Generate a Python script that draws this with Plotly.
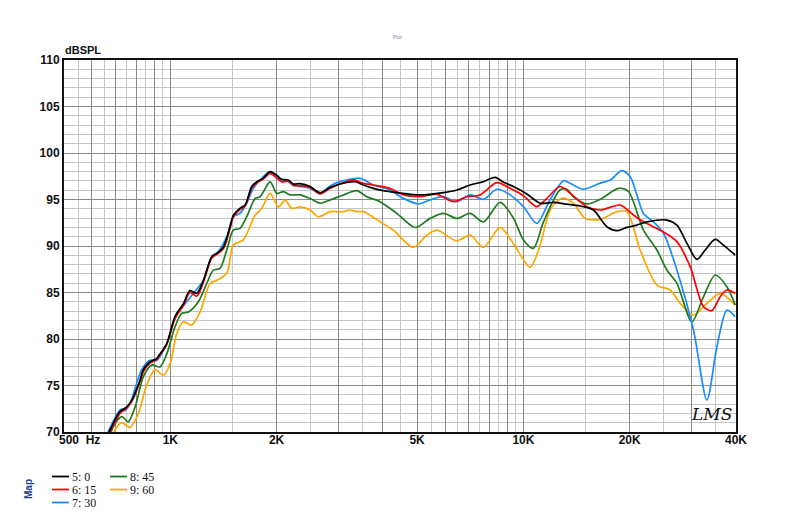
import plotly.graph_objects as go

# ---- data ----
FREQ_5_0 = [640, 675, 697, 720, 753, 778, 821, 839, 876, 915, 935, 977, 1031, 1089, 1137, 1188, 1241, 1310,
            1354, 1414, 1477, 1508, 1575, 1628, 1701, 1757, 1835, 1917, 2003, 2069, 2160, 2231, 2331, 2488,
            2655, 2834, 3025, 3336, 3522, 3760, 4013, 4381, 4777, 5099, 5443, 5936, 6479, 7066, 7706, 8317,
            8779, 9371, 10228, 11153, 12165, 13277, 14478, 15788, 17229, 18393, 19630, 20958, 22373, 25489,
            27207, 29040, 31000, 32720, 34925, 37276, 39790]
SPL_5_0 = [68.5, 70.2, 71.3, 72.2, 72.7, 73.4, 75.6, 76.7, 77.55, 77.9, 78.4, 79.5, 82.4, 83.8, 85.2, 84.9, 86.3,
           88.85, 89.2, 89.9, 92.1, 93.3, 94.05, 94.4, 96.4, 96.9, 97.3, 98.0, 97.6, 97.17, 97.1, 96.66, 96.7,
           96.4, 95.73, 96.3, 96.67, 96.92, 96.56, 96.2, 95.95, 95.73, 95.56, 95.49, 95.56, 95.73, 96.02, 96.56,
           96.92, 97.38, 96.85, 96.4, 95.6, 94.6, 94.7, 94.5, 94.3, 93.87, 92.07, 91.65, 92.0, 92.25, 92.6,
           92.79, 92.25, 90.29, 88.56, 89.57, 90.72, 89.93, 89.03]

FREQ_6_15 = [640, 675, 697, 720, 753, 778, 821, 839, 876, 915, 935, 977, 1031, 1089, 1137, 1188, 1241, 1310,
             1354, 1414, 1477, 1508, 1575, 1628, 1701, 1757, 1835, 1917, 2003, 2069, 2160, 2231, 2331, 2488,
             2655, 2834, 3025, 3300, 3522, 3760, 4192, 4573, 5099, 5686, 6337, 6916, 7542, 8409, 9171, 10004,
             10915, 11654, 12708, 13564, 15125, 16498, 18798, 20499, 21883, 24400, 27207, 29671, 32366, 34184,
             36082, 37701, 39790]
SPL_6_15 = [68.3, 70.0, 71.0, 72.0, 72.6, 73.3, 75.4, 76.5, 77.4, 77.8, 78.3, 79.4, 82.2, 83.6, 85.0, 84.6, 86.1,
            88.7, 89.1, 89.7, 91.9, 93.1, 93.9, 94.3, 96.2, 96.8, 97.2, 97.8, 97.3, 96.9, 97.0, 96.5, 96.5, 96.3,
            95.6, 96.2, 96.67, 97.1, 96.74, 96.56, 96.2, 95.49, 95.3, 95.56, 94.77, 95.3, 95.49, 96.81, 96.2,
            95.4, 94.23, 95.13, 96.4, 95.68, 94.23, 93.87, 94.4, 93.33, 92.6, 91.7, 90.47, 87.78, 83.47, 83.05,
            84.55, 85.27, 84.9]

FREQ_7_30 = [630, 670, 725, 744, 769, 830, 876, 915, 977, 1043, 1101, 1162, 1241, 1310, 1368, 1445, 1508, 1575,
             1646, 1719, 1796, 1917, 2046, 2137, 2231, 2488, 2655, 2834, 3025, 3447, 3760, 4192, 4573, 5043,
             5443, 5936, 6479, 7066, 7706, 8409, 9171, 10004, 10915, 11905, 12985, 13564, 14793, 16498, 17610,
             19009, 20065, 20958, 21883, 23354, 24930, 27207, 30314, 33090, 35313, 37701, 39790]
SPL_7_30 = [67.5, 70.2, 72.45, 72.3, 73.08, 76.7, 77.7, 77.7, 79.5, 82.75, 83.8, 84.9, 86.3, 88.85, 89.4, 91.0,
            93.15, 93.5, 94.6, 96.2, 97.1, 98.0, 97.1, 97.0, 96.55, 96.2, 95.66, 96.45, 96.92, 97.27, 96.56,
            96.02, 95.12, 94.52, 94.95, 95.3, 94.77, 95.49, 95.02, 96.1, 95.5, 94.23, 92.43, 95.0, 97.02, 96.74,
            96.1, 96.76, 97.09, 98.1, 97.45, 95.5, 93.5, 92.6, 91.37, 87.42, 80.97, 73.43, 79.17, 83.1, 82.4]

FREQ_8_45 = [650, 690, 729, 760, 795, 839, 886, 935, 977, 1031, 1077, 1125, 1201, 1268, 1324, 1383, 1445, 1508,
             1575, 1646, 1738, 1796, 1917, 2003, 2091, 2184, 2331, 2488, 2655, 2834, 3091, 3375, 3601, 3927,
             4381, 4935, 5443, 5936, 6479, 7066, 7706, 8592, 9371, 10004, 10677, 11400, 12708, 13277, 13859,
             15125, 16498, 18589, 19838, 21883, 23876, 25489, 27207, 29999, 32366, 34925, 37701, 39790]
SPL_8_45 = [67.5, 70.57, 71.65, 71.1, 72.7, 75.95, 77.2, 77.0, 78.4, 81.3, 82.75, 82.9, 84.0, 85.97, 87.4, 87.6,
            89.57, 91.7, 91.9, 93.15, 95.1, 95.3, 96.9, 95.66, 95.84, 95.5, 95.5, 95.1, 94.6, 94.95, 95.49, 95.95,
            95.3, 94.77, 93.51, 91.99, 92.97, 93.51, 92.97, 93.51, 92.6, 94.7, 93.0, 90.65, 89.75, 92.6, 96.05,
            96.1, 95.3, 94.52, 95.02, 96.2, 95.86, 91.7, 89.57, 87.42, 85.98, 81.86, 84.55, 86.88, 85.62, 83.65]

FREQ_9_60 = [660, 697, 729, 769, 812, 857, 905, 956, 1000, 1043, 1089, 1150, 1214, 1296, 1354, 1445, 1508, 1610,
             1738, 1816, 1917, 2024, 2114, 2208, 2331, 2488, 2626, 2834, 3091, 3229, 3375, 3522, 3927, 4284, 4880,
             5325, 5686, 6479, 7066, 7706, 8592, 9371, 10449, 11153, 11905, 12851, 13859, 14958, 16498, 18393,
             19630, 21417, 23876, 26042, 27797, 30314, 33090, 36082, 39790]
SPL_9_60 = [67.5, 70.2, 71.0, 70.5, 72.0, 75.05, 76.7, 76.1, 77.4, 80.6, 81.86, 81.5, 82.9, 85.97, 86.3, 87.06,
            90.1, 90.65, 93.3, 94.05, 95.66, 94.2, 94.94, 94.05, 94.2, 93.87, 93.15, 93.69, 93.69, 93.87, 93.69,
            93.69, 92.6, 91.7, 89.85, 91.17, 91.7, 90.56, 91.17, 89.85, 92.0, 90.28, 87.7, 90.1, 93.87, 95.13,
            94.6, 92.97, 92.86, 93.7, 93.7, 89.57, 85.8, 85.27, 83.83, 82.58, 83.83, 84.9, 83.65]

SERIES_NAMES = ["5: 0", "6: 15", "7: 30", "8: 45", "9: 60"]
SERIES_COLORS = ["#000000", "#ff0000", "#1a8cff", "#1f7a1f", "#ffa500"]
SERIES_F = [FREQ_5_0, FREQ_6_15, FREQ_7_30, FREQ_8_45, FREQ_9_60]
SERIES_DB = [SPL_5_0, SPL_6_15, SPL_7_30, SPL_8_45, SPL_9_60]

X_MAJOR = [600, 700, 800, 900, 1000, 2000, 3000, 4000, 5000, 6000, 7000, 8000, 9000,
           10000, 20000, 30000, 40000]
X_LABELS = {1000: "1K", 2000: "2K", 5000: "5K", 10000: "10K", 20000: "20K", 40000: "40K"}
X_MINOR = [550, 650, 750, 850, 950, 1500, 2500, 3500, 4500, 5500, 6500, 7500, 8500, 9500,
           15000, 25000, 35000]
Y_TICKS = [70, 75, 80, 85, 90, 95, 100, 105, 110]

# ---- layout geometry (pixels); the page body has an 8px default margin ----
OFF = 8
W, H = 784, 507
L, T = 56, 52
PW, PH = 672, 372
R, B = W - L - PW, H - T - PH


def px(x):
    return (x - OFF - L) / PW


def py(y):
    return (T + PH - (y - OFF)) / PH


fig = go.Figure()
for i in [4, 3, 2, 1, 0]:
    fig.add_trace(go.Scatter(
        x=SERIES_F[i], y=SERIES_DB[i], mode="lines", name=SERIES_NAMES[i],
        line=dict(color=SERIES_COLORS[i], width=1.7, shape="spline", smoothing=0.8),
        showlegend=False, hoverinfo="skip"))

bold = dict(family="Liberation Sans, Arial, sans-serif", size=12, color="#111111")

fig.update_xaxes(
    type="log", range=[2.69897, 4.60206],
    tickmode="array", tickvals=X_MAJOR,
    ticktext=["<b>%s</b>" % X_LABELS.get(v, "") for v in X_MAJOR],
    tickfont=bold, ticks="", ticklabelstandoff=-4,
    showgrid=True, gridcolor="#8a8a8a", gridwidth=1.2,
    minor=dict(tickmode="array", tickvals=X_MINOR, showgrid=True, gridcolor="#c6c6c6", gridwidth=1),
    showline=True, linecolor="#111111", linewidth=2, mirror=True, zeroline=False)

fig.update_yaxes(
    range=[70, 110], tickmode="array", tickvals=Y_TICKS,
    ticktext=["<b>%d</b>" % v for v in Y_TICKS], tickfont=bold, ticks="",
    showgrid=True, gridcolor="#8a8a8a", gridwidth=1.2,
    minor=dict(dtick=1, showgrid=True, gridcolor="#c6c6c6", gridwidth=1),
    showline=True, linecolor="#111111", linewidth=2, mirror=True, zeroline=False)

ann = []
ann.append(dict(x=px(57), y=py(440), xref="paper", yref="paper", text="<b>500  Hz</b>",
                showarrow=False, xanchor="left", yanchor="middle", font=bold))
ann.append(dict(x=px(63), y=py(50), xref="paper", yref="paper", text="<b>dBSPL</b>",
                showarrow=False, xanchor="left", yanchor="middle",
                font=dict(family="Liberation Sans, Arial", size=11, color="#111111")))
ann.append(dict(x=px(397), y=py(37), xref="paper", yref="paper", text="Plot",
                showarrow=False, xanchor="center", yanchor="middle",
                font=dict(family="Liberation Sans, Arial", size=5, color="#8a8ac0")))
ann.append(dict(x=px(28), y=py(489), xref="paper", yref="paper", text="<b>Map</b>",
                showarrow=False, xanchor="center", yanchor="middle", textangle=-90,
                font=dict(family="Liberation Sans, Arial", size=10, color="#1f3d8f")))
ann.append(dict(x=px(711), y=py(414), xref="paper", yref="paper", text="<i>LMS</i>",
                showarrow=False, xanchor="center", yanchor="middle",
                font=dict(family="DejaVu Serif, serif", size=17, color="#111111")))

shapes = []
legend_pos = [(52, 476.5), (52, 489.5), (52, 502.5), (110, 476.5), (110, 489.5)]
for (lx, ly), name, col in zip(legend_pos, SERIES_NAMES, SERIES_COLORS):
    shapes.append(dict(type="line", xref="paper", yref="paper",
                       x0=px(lx), x1=px(lx + 17), y0=py(ly), y1=py(ly),
                       line=dict(color=col, width=1.8)))
    ann.append(dict(x=px(lx + 19), y=py(ly), xref="paper", yref="paper", text=name,
                    showarrow=False, xanchor="left", yanchor="middle", height=12, borderpad=0,
                    font=dict(family="Liberation Serif, Times New Roman, serif", size=12,
                              color="#111111")))

fig.update_layout(
    width=W, height=H, margin=dict(l=L, r=R, t=T, b=B, pad=0),
    paper_bgcolor="white", plot_bgcolor="white",
    annotations=ann, shapes=shapes, showlegend=False)

fig.write_html("out.html")
